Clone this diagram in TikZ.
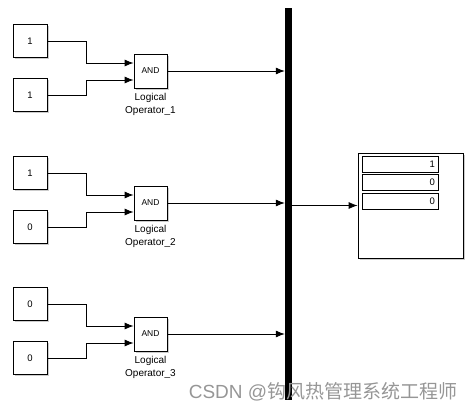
\documentclass[tikz,border=0pt]{standalone}
\usepackage{fontspec}
\setmainfont{Liberation Sans}
\newfontfamily\cjkfont{Noto Sans CJK SC}
\usetikzlibrary{arrows.meta,shadows}
\definecolor{wmarkc}{RGB}{150,150,150}
\tikzset{
  blk/.style={draw,fill=white,line width=.8pt,drop shadow={shadow xshift=1.5pt,shadow yshift=-1.5pt,fill=gray!80}},
  constblk/.style={blk,minimum width=34pt,minimum height=33pt,inner sep=0pt,font=\fontsize{9.5}{10}\selectfont},
  andblk/.style={blk,minimum width=33pt,minimum height=34pt,inner sep=0pt,font=\fontsize{8.5}{9}\selectfont},
  fieldbox/.style={draw,line width=.7pt,minimum width=76pt,minimum height=16pt,inner sep=2pt,text width=70pt,align=right,font=\fontsize{9.5}{10}\selectfont},
  sig/.style={line width=.8pt}
}
\begin{document}
\begin{tikzpicture}[x=1pt,y=-1pt,>={Latex[length=9pt,width=7pt]}]
\useasboundingbox (0,0) rectangle (475,413);
% bus
\node[fill=black,minimum width=7pt,minimum height=392pt,inner sep=0pt] (bus) at (288.5,204){};
% three AND groups
\foreach \g/\y/\va/\vb in {1/71/1/1,2/203/1/0,3/334/0/0}{
  \node[andblk] (and\g) at (150.5,\y){AND};
  \node[constblk] (ca\g) at (30,\y-30){\va};
  \node[constblk] (cb\g) at (30,\y+24){\vb};
  \node[below=1.5pt,align=center,font=\fontsize{10}{13}\selectfont] (lab\g) at (and\g.south){Logical\\Operator\_\g};
  \draw[sig,->] (ca\g.east) -- ++(39,0) |- ([yshift=8pt]and\g.west);
  \draw[sig,->] (cb\g.east) -- ++(39,0) |- ([yshift=-9pt]and\g.west);
  \draw[sig,->] (and\g.east) -- (and\g.east -| bus.west);
}
% display
\node[blk,minimum width=105pt,minimum height=105pt,inner sep=0pt] (disp) at (410.5,205.5){};
\node[fieldbox] (f1) at (400,164){1};
\node[fieldbox] (f2) at (400,182){0};
\node[fieldbox] (f3) at (400,201){0};
\draw[sig,->] (bus.east |- disp.west) -- (disp.west);
% watermark
\node[wmarkc,font=\fontsize{19}{21}\selectfont] (wm) at (323,392){CSDN @{\cjkfont 钩风热管理系统工程师}};
\end{tikzpicture}
\end{document}
